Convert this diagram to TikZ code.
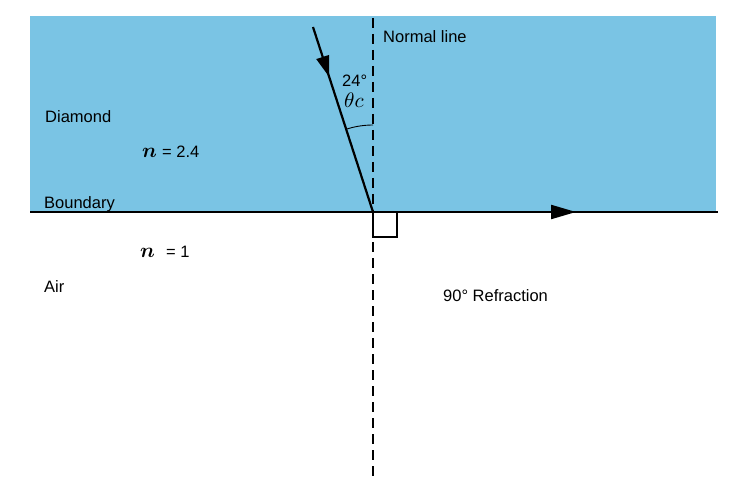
\documentclass[tikz,border=0pt]{standalone}
\usepackage{amsmath}
\usepackage{graphicx}
\usepackage{fontspec}
\setmainfont{Liberation Sans}
\usetikzlibrary{arrows.meta,decorations.markings}
\definecolor{diamondblue}{RGB}{122,196,228}
\begin{document}
\begin{tikzpicture}[x=1pt,y=-1pt,
  lbl/.style={anchor=base west,inner sep=0pt,font=\fontsize{16.5}{20}\selectfont},
  nsym/.style={anchor=base west,inner sep=0pt,font=\fontsize{22}{24}\selectfont},
  normalline/.style={line width=2.4pt,dash pattern=on 10pt off 6pt},
  ray/.style={line width=2.2pt},
  headmark/.style={postaction={decorate},decoration={markings,
     mark=at position #1 with {\arrow{Triangle[length=21pt,width=13pt]}}}}]
\useasboundingbox (0,0) rectangle (750,500);
\fill[diamondblue] (30,16) rectangle (716,212);
\coordinate (O) at (373,212);
\coordinate (Ntop) at (373,18);
\coordinate (Nbot) at (373,478);
\coordinate (P) at (313,27);
\coordinate (BL) at (30,212);
\coordinate (BR) at (718,212);
\coordinate (R) at (576,212);
% boundary
\draw[line width=2.7pt] (BL) -- (BR);
% refracted ray arrow
\draw[ray,-{Triangle[length=25pt,width=14pt]}] (O) -- (R);
% normal line
\draw[normalline] (Ntop) -- (Nbot);
% incident ray
\draw[ray,headmark=0.27] (P) -- (O);
% right angle
\draw[line width=1.2pt] (O) rectangle ++(24,25);
% angle arc
\draw[line width=0.9pt] (O) ++(0,-87) arc[start angle=270,end angle=252,radius=87];
% labels
\node[lbl] (normal) at (383,43) {Normal line};
\node[lbl] (deg) at (342,87) {24°};
\node[anchor=base west,inner sep=0pt,font=\fontsize{10}{12}\selectfont] (theta) at (344,108) {\scalebox{2.1}{$\theta c$}};
\node[lbl] (diamond) at (45,123) {Diamond};
\node[nsym] (n1) at (142,158) {$\boldsymbol{n}$};
\node[lbl] (n1v) at (162,158) {= 2.4};
\node[lbl] (boundary) at (44,208) {Boundary};
\node[nsym] (n2) at (140,257) {$\boldsymbol{n}$};
\node[lbl] (n2v) at (166,257) {= 1};
\node[lbl] (air) at (44,292) {Air};
\node[lbl] (refr) at (443,301) {90° Refraction};
\end{tikzpicture}
\end{document}
